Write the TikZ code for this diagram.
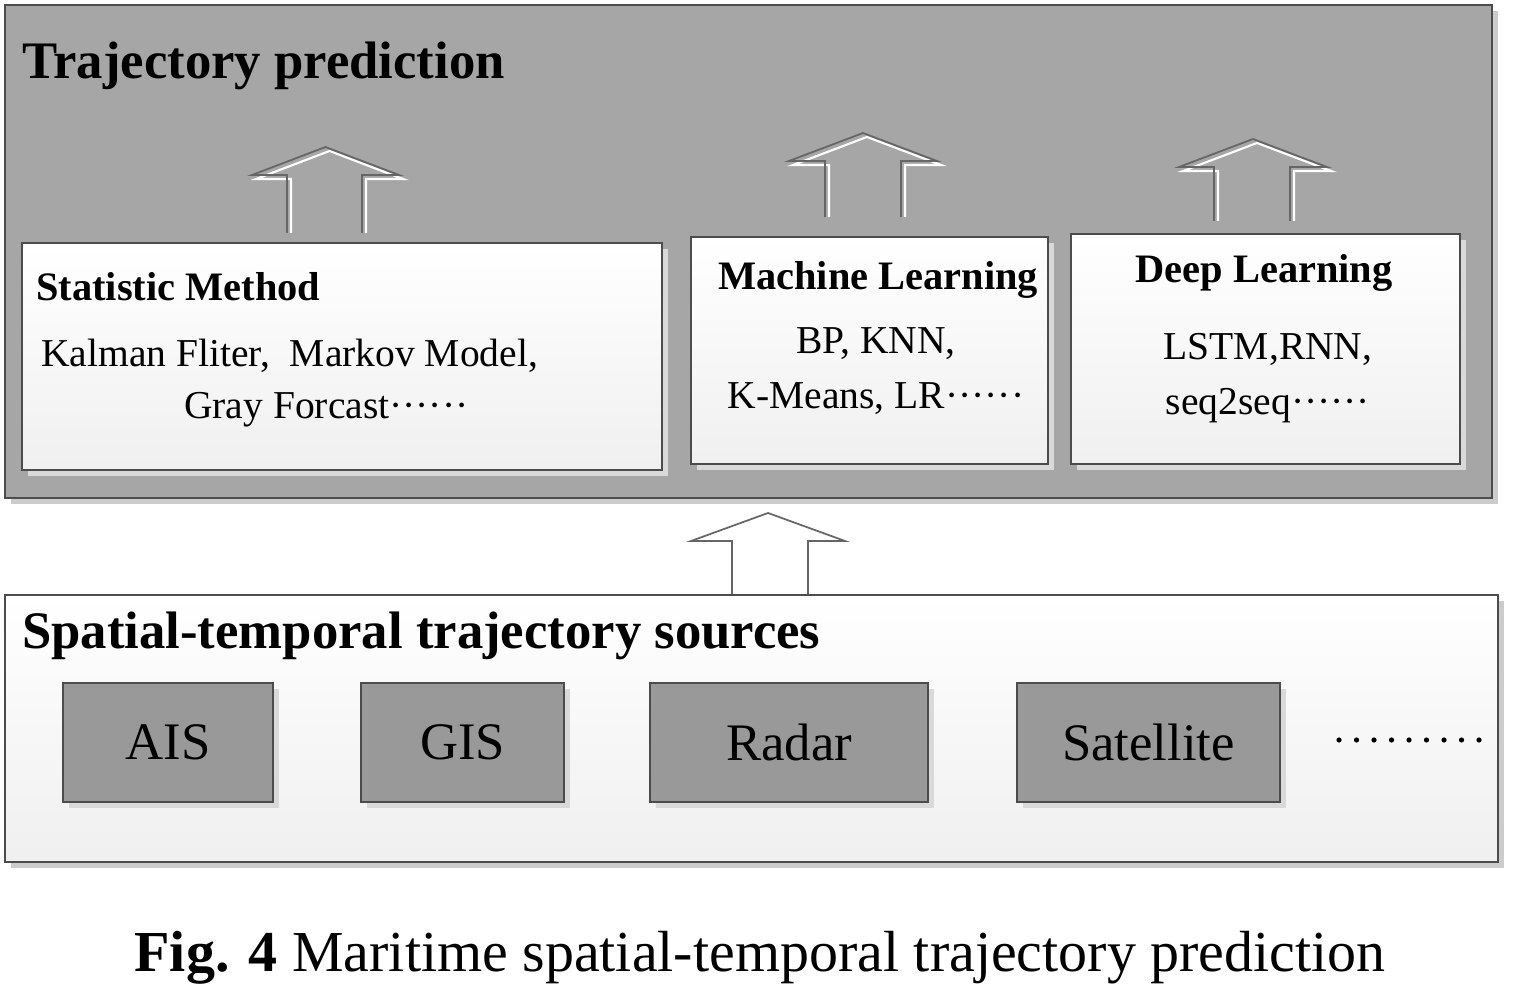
\documentclass[tikz,border=0pt]{standalone}
\usepackage{fontspec}
\setmainfont{Liberation Serif}
\begin{document}
\begin{tikzpicture}[x=0.02cm,y=-0.02cm,
  shadowed/.style={draw=black!70,line width=0.8pt},
  srcbox/.style={draw=black!70,line width=0.8pt,fill=black!40},
  hollow/.style={draw=black!60,line width=1pt}]
\useasboundingbox (0,0) rectangle (1533,999);
% top panel
\fill[black!20] (11,11) rectangle (1498,504);
\draw[shadowed,fill=black!35] (5,5) rectangle (1492,498);
\node[anchor=west,font=\bfseries\fontsize{30}{32}\selectfont] (tp) at (16,66) {Trajectory prediction};
% sub boxes
\foreach \a/\b/\c/\d in {22/243/662/470,691/237/1048/464,1071/234/1460/464}{
  \fill[black!15] (\a+6,\b+6) rectangle (\c+6,\d+6);
  \shade[top color=white,bottom color=black!6,draw=black!70,line width=0.8pt] (\a,\b) rectangle (\c,\d);}
\node[anchor=west,font=\bfseries\fontsize{23}{26}\selectfont] (sm) at (30,287) {Statistic Method};
\node[anchor=west,font=\fontsize{22.5}{30}\selectfont] (smt) at (35,356) {Kalman Fliter,\ \ Markov Model,};
\node[anchor=west,font=\fontsize{22.5}{30}\selectfont] (smt2) at (178,410) {Gray Forcast······};
\node[font=\bfseries\fontsize{23}{26}\selectfont] (ml) at (878,280) {Machine Learning};
\node[font=\fontsize{22.5}{31}\selectfont,align=center] (mlt) at (876,371) {BP, KNN,\\K-Means, LR······};
\node[font=\bfseries\fontsize{23}{26}\selectfont] (dl) at (1264,273) {Deep Learning};
\node[font=\fontsize{22.5}{31}\selectfont,align=center] (dlt) at (1268,378) {LSTM,RNN,\\seq2seq······};
% hollow arrows
\foreach \l/\r/\t/\bs/\wl/\wr/\bo in {287/362/147/175/252/399/233,825/901/133/161/789/937/217,1214/1290/139/167/1179/1327/221,732/808/513/541/691/845/595}{
  \draw[white,line width=1.2pt] (\l+4,\bo) -- (\l+4,\bs+4) -- (\wl+4,\bs+4) -- ({(\wl+\wr)/2+4},\t+4) -- (\wr+4,\bs+4) -- (\r+4,\bs+4) -- (\r+4,\bo);
  \draw[hollow] (\l,\bo) -- (\l,\bs) -- (\wl,\bs) -- ({(\wl+\wr)/2},\t) -- (\wr,\bs) -- (\r,\bs) -- (\r,\bo);}
% bottom panel
\fill[black!20] (11,601) rectangle (1504,868);
\shade[top color=white,bottom color=black!6,draw=black!70,line width=0.8pt] (5,595) rectangle (1498,862);
\node[anchor=west,font=\bfseries\fontsize{30}{32}\selectfont] (sts) at (16,636) {Spatial-temporal trajectory sources};
\foreach \a/\b/\c/\d/\n/\t in {63/683/273/802/ais/AIS,361/683/564/802/gis/GIS,650/683/928/802/radar/Radar,1017/683/1280/802/sat/Satellite}{
  \fill[black!15] (\a+6,\b+6) rectangle (\c+6,\d+6);
  \draw[srcbox] (\a,\b) rectangle (\c,\d);
  \node[font=\fontsize{30}{32}\selectfont] (\n) at ({(\a+\c)/2},{(\b+\d)/2}) {\t};}
\foreach \i in {0,...,8}{\fill (1339+\i*17.5,740) circle (2.6);}
\coordinate (dots) at (1410,740);
\node[font=\fontsize{33}{36}\selectfont] (cap) at (760,958) {\textbf{Fig. 4} Maritime spatial-temporal trajectory prediction};
\end{tikzpicture}
\end{document}
